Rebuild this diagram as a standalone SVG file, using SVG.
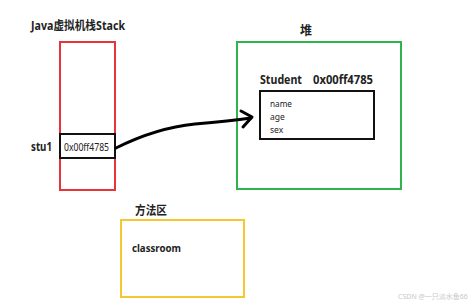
<svg xmlns="http://www.w3.org/2000/svg" width="474" height="305" viewBox="0 0 474 305">
<style>
text{font-family:"Noto Sans","Noto Sans CJK SC",sans-serif;font-weight:bold;fill:#222;dominant-baseline:central}
.t{font-size:12px}
.s{font-size:8.5px;font-weight:normal}
.m{font-size:10px;font-weight:normal}
.box{fill:none;stroke-width:2}
</style>
<rect width="474" height="305" fill="#fff"/>
<g id="stack">
<text class="t" x="31" y="25" textLength="94" lengthAdjust="spacingAndGlyphs">Java虚拟机栈Stack</text>
<rect class="box" x="60" y="42" width="55" height="148" stroke="#e8333a"/>
</g>
<g id="stu1">
<text class="t" x="31" y="146" textLength="21" lengthAdjust="spacingAndGlyphs">stu1</text>
<rect class="box" x="60" y="134" width="55" height="24" stroke="#111"/>
<text class="m" x="64" y="147" textLength="45" lengthAdjust="spacingAndGlyphs">0x00ff4785</text>
</g>
<g id="heap">
<text class="t" x="300" y="30">堆</text>
<rect class="box" x="237" y="42" width="164" height="147" stroke="#2fb34a"/>
</g>
<g id="student">
<text class="t" x="260" y="79" textLength="42" lengthAdjust="spacingAndGlyphs">Student</text>
<text class="t" x="313" y="79" textLength="60" lengthAdjust="spacingAndGlyphs">0x00ff4785</text>
<rect class="box" x="260" y="91" width="114" height="48" stroke="#111"/>
<text class="s" x="270" y="103" textLength="22" lengthAdjust="spacingAndGlyphs">name</text>
<text class="s" x="270" y="116">age</text>
<text class="s" x="270" y="129">sex</text>
</g>
<g id="method">
<text class="t" x="135" y="210" textLength="32" lengthAdjust="spacingAndGlyphs">方法区</text>
<rect class="box" x="121" y="220" width="123" height="77" stroke="#f5c92d"/>
<text class="m" x="132" y="248" textLength="49" lengthAdjust="spacingAndGlyphs" style="font-weight:bold">classroom</text>
</g>
<g id="connectors" fill="none" stroke="#000" stroke-width="3" stroke-linecap="round" stroke-linejoin="round">
<path d="M116,148 C140,136 165,127 195,124 C220,122 238,120 251,118"/>
<path d="M241,111 L252,117 L243,127"/>
</g>
<text x="398" y="296" style="font-size:7px;font-weight:normal;fill:#c8c8c8">CSDN @一只淡水鱼66</text>
</svg>
